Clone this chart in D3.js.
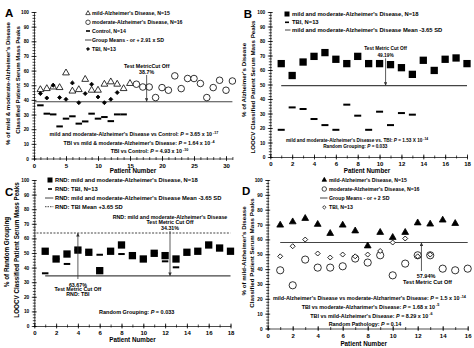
<!DOCTYPE html>
<html>
<head>
<meta charset="utf-8">
<script src="https://cdn.jsdelivr.net/npm/d3@7/dist/d3.min.js"></script>
<style>
  body { margin: 0; background: #fff; }
  text { font-family: "Liberation Sans", Arial, sans-serif; font-weight: bold; fill: #000; }
</style>
</head>
<body>
<div id="chart"></div>
<script>
// A: % classified as mild & moderate AD
var aMild = [47, 47.7, 48.8, 48.4, 58.4, 46, 47, 54, 46.6, 46.6, 50.7, 52.3, 50.7, 47.7, 51.2];            // patients 1-15
var aModerate = [50.7, 48.8, 48.8, 41.6, 48.4, 46.6, 56.4, 47.7, 54.6, 54.6, 51.2, 41.6, 48.4, 53.4, 46.6, 52.9]; // patients 16-31
var aControl = [36.3, 30.6, 30.1, 21.9, 27.2, 28.8, 23.8, 25.3, 30.6, 27.2, 28.3, 25.5, 30.1, 30.1];
var aTBI = [44.3, 41.3, 50, 41.6, 40.4, 51.6, 38.1, 44.3, 50.7, 42, 38.1, 40.4, 45];
var aCutOff = 38.7, aArrowAt = 17.6;

// B: LOOCV, AD vs TBI
var bAD = [64.4, 56.2, 65.5, 69.4, 72, 67.4, 64.4, 69.4, 64.4, 64.4, 63.7, 61.6, 57, 66.7, 59.7, 67.4, 68.3, 64.4];
var bTBI = [18.75, 34.2, 33.1, 26.2, 22, 18.75, 36.1, 28.5, 18.75, 31.25, 22, 30.3, 29.2];
var bCutOff = 49.19, bArrowAt = 10.55;

// C: random grouping
var cAD = [51.2, 45.9, 49.3, 52, 50.5, 37.9, 51.2, 55.5, 48.2, 45.9, 49.8, 48.2, 45.9, 50.5, 51.2, 55.5, 53.4, 51.2];
var cTBI = [36.1, 46, 42.5, 52, 50.5, 48.8, 51, 49.3, 48, 46, 50, 44.3, 40.2];
var cADCutOff = 34.31, cTBICutOff = 63.67, cArrowTBI = 4, cArrowAD = 12.45;

// D: mild vs moderate AD
var dMild = [69.6, 71.8, 74.1, 70.1, 64, 69.6, 65.7, 55.6, 64.7, 61.3, 64.7, 71.1, 70.3, 73, 70.7];
var dModerate = [39.2, 29.1, 46.4, 41, 41, 41.9, 47.1, 44.4, 49.3, 35.8, 43.7, 49.3, 49.3, 40.3, 39.2, 40.3];
var dTBI = [48.6, 55.4, 59.9, 50.5, 47.8, 49.8, 48.6, 49.8, 52.2, 57.9, 60.6, 48.6, 49.8];
var dCutOff = 57.94, dArrowAt = 12.3;

var yTicks = d3.range(0, 101, 10);

var svg = d3.select("#chart").append("svg").attr("width", 474).attr("height", 348);

svg.append("defs").append("marker")
  .attr("id", "ah").attr("viewBox", "0 0 6 6").attr("refX", 6).attr("refY", 3)
  .attr("markerWidth", 3.5).attr("markerHeight", 3.5)
  .attr("markerUnits", "userSpaceOnUse").attr("orient", "auto")
  .append("path").attr("d", "M0,0L6,3L0,6Z").attr("fill", "#333");

function frame(p) {
  var g = svg.append("g");
  var x = d3.scaleLinear().domain([0, p.xMax]).range(p.xr);
  var y = d3.scaleLinear().domain([0, 100]).range(p.yr);
  var x0 = p.xr[0], y0 = p.yr[0];

  g.append("g").attr("transform", `translate(${x0},0)`)
    .call(d3.axisLeft(y).tickValues(d3.range(0, 101, 2)).tickSize(1.5).tickSizeOuter(0).tickFormat(""))
    .call(a => a.selectAll(".tick line").attr("x1", 1.5));
  g.append("g").attr("transform", `translate(${x0},0)`)
    .call(d3.axisLeft(y).tickValues(yTicks).tickSize(2.5).tickPadding(2.5))
    .call(a => a.select(".domain").remove())
    .call(a => a.selectAll(".tick line").attr("x1", 2.5))
    .call(a => a.selectAll("text").attr("font-size", 4.8));

  g.append("g").attr("transform", `translate(0,${y0})`)
    .call(d3.axisBottom(x).tickValues(d3.range(0, p.xMax + 0.1, 1)).tickSize(1.5).tickSizeOuter(0).tickFormat(""))
    .call(a => a.selectAll(".tick line").attr("y1", -1.5));
  g.append("g").attr("transform", `translate(0,${y0})`)
    .call(d3.axisBottom(x).tickValues(d3.range(0, p.xMax + 0.1, p.xStep)).tickSize(2.5).tickPadding(2.5))
    .call(a => a.select(".domain").remove())
    .call(a => a.selectAll(".tick line").attr("y1", -2.5))
    .call(a => a.selectAll("text").attr("font-size", 6));

  g.selectAll(".domain, .tick line").attr("stroke-width", 0.7);
  return {g: g, x: x, y: y};
}

function label(g, cx, cy, s, size, anchor) {
  return g.append("text").attr("x", cx).attr("y", cy + size * 0.36)
    .attr("font-size", size).attr("text-anchor", anchor || "middle").text(s);
}

function pLabel(g, cx, cy, size, pre, val, sup) {
  var t = label(g, cx, cy, "", size);
  t.append("tspan").text(pre);
  t.append("tspan").attr("font-style", "italic").text("P");
  t.append("tspan").text(" = " + val);
  if (sup) t.append("tspan").attr("dy", -size * 0.45).attr("font-size", size * 0.7).text(" " + sup);
}

function yTitle(g, bx, cy, s, size) {
  g.append("text").attr("transform", `translate(${bx},${cy}) rotate(-90)`)
    .attr("text-anchor", "middle").attr("font-size", size).text(s);
}

function hline(P, x1, x2, v, dashed) {
  P.g.append("line")
    .attr("x1", P.x(x1)).attr("x2", P.x(x2)).attr("y1", P.y(v)).attr("y2", P.y(v))
    .attr("stroke", "#444").attr("stroke-width", 1.1)
    .attr("stroke-dasharray", dashed ? "2,1.4" : null);
}

function arrow(g, x, y1, y2) {
  g.append("line").attr("x1", x).attr("x2", x).attr("y1", y1).attr("y2", y2)
    .attr("stroke", "#333").attr("stroke-width", 0.8).attr("marker-end", "url(#ah)");
}

function marks(P, data, start, type, size, fill, rot) {
  P.g.append("g").selectAll("path").data(data).join("path")
    .attr("d", d3.symbol(type, size))
    .attr("transform", (d, i) => `translate(${P.x(i + start)},${P.y(d)}) rotate(${rot || 0})`)
    .attr("fill", fill).attr("stroke", "#000").attr("stroke-width", 0.8);
}

function rects(P, data, start, w, h) {
  P.g.append("g").selectAll("rect").data(data).join("rect")
    .attr("x", (d, i) => P.x(i + start) - w / 2)
    .attr("y", d => P.y(d) - h / 2)
    .attr("width", w).attr("height", h).attr("fill", "#000");
}

function legSym(g, x, y, type, size, fill, rot) {
  g.append("path").attr("d", d3.symbol(type, size))
    .attr("transform", `translate(${x},${y}) rotate(${rot || 0})`)
    .attr("fill", fill).attr("stroke", "#000").attr("stroke-width", 0.7);
}
function legRect(g, x, y, w, h) {
  g.append("rect").attr("x", x - w / 2).attr("y", y - h / 2).attr("width", w).attr("height", h);
}
function legLine(g, x1, x2, y, dashed) {
  g.append("line").attr("x1", x1).attr("x2", x2).attr("y1", y).attr("y2", y)
    .attr("stroke", "#444").attr("stroke-width", 1).attr("stroke-dasharray", dashed ? "1.5,1" : null);
}

// ---------- A ----------
var A = frame({xMax: 31, xr: [34, 232.4], yr: [158.5, 12], xStep: 5});
hline(A, 0, 31, aCutOff);
marks(A, aMild, 1, d3.symbolTriangle, 20, "#fff");
marks(A, aModerate, 16, d3.symbolCircle, 34, "#fff");
rects(A, aControl, 1, 6.5, 2);
marks(A, aTBI, 1, d3.symbolSquare, 8, "#000", 45);
arrow(A.g, A.x(aArrowAt), 75, A.y(aCutOff));
label(A.g, A.x(aArrowAt), 66, "Test MetricCut Off", 5.3);
label(A.g, A.x(aArrowAt), 72, aCutOff + "%", 5.3);
label(A.g, 5, 12.5, "A", 11.5, "start").attr("y", 16.7);
legSym(A.g, 88, 13.3, d3.symbolTriangle, 9, "#fff");
legSym(A.g, 88, 22.3, d3.symbolCircle, 16, "#fff");
legRect(A.g, 88, 31, 4, 1.6);
legLine(A.g, 85, 91.5, 40);
legSym(A.g, 88, 49, d3.symbolSquare, 5, "#000", 45);
label(A.g, 92, 13.3, "mild-Alzheimer's Disease, N=15", 5.2, "start");
label(A.g, 92, 22.3, "moderate-Alzheimer's Disease, N=16", 5.2, "start");
label(A.g, 92, 31, "Control, N=14", 5.2, "start");
label(A.g, 92, 40, "Group Means - or + 2.91 x SD", 5.2, "start");
label(A.g, 92, 49, "TBI, N=13", 5.2, "start");
pLabel(A.g, 134, 134.3, 5.3, "mild and moderate-Alzheimer's Disease vs Control: ", "3.65 x 10", "-17");
pLabel(A.g, 139, 143.3, 5.3, "TBI vs mild & moderate-Alzheimer's Disease: ", "1.64 x 10", "-4");
pLabel(A.g, 149.5, 151, 5.3, "TBI vs Control: ", "4.93 x 10", "-10");
label(A.g, 133, 171, "Patient Number", 6.3);
yTitle(A.g, 10.2, 83.5, "% of mild & moderate-Alzheimer's Disease", 6.1);
yTitle(A.g, 20.2, 80, "Classified Patient Serum Mass Peaks", 6.1);

// ---------- B ----------
var B = frame({xMax: 18, xr: [270.3, 467], yr: [157, 12], xStep: 2});
hline(B, 1, 18, bCutOff);
rects(B, bAD, 1, 7.3, 7.3);
rects(B, bTBI, 1, 7, 2);
arrow(B.g, B.x(bArrowAt), 58.3, B.y(bCutOff));
label(B.g, B.x(bArrowAt), 48.3, "Test Metric Cut Off", 4.8);
label(B.g, B.x(bArrowAt), 55, bCutOff + "%", 4.8);
label(B.g, 243.7, 12, "B", 11.5, "start").attr("y", 18.3);
legRect(B.g, 287, 14, 5, 5);
legRect(B.g, 287, 22.3, 4, 1.6);
legLine(B.g, 285, 290.5, 30);
label(B.g, 292, 14, "mild and moderate-Alzheimer's Disease, N=18", 5.8, "start");
label(B.g, 292, 22.3, "TBI, N=13", 5.8, "start");
label(B.g, 292, 30, "mild and moderate-Alzheimer's Disease Mean -3.65 SD", 5.8, "start");
pLabel(B.g, 357, 140, 4.7, "mild and moderate-Alzheimer's Disease vs. TBI: ", "1.53 X 10", "-14");
pLabel(B.g, 355.3, 146, 4.7, "Random Grouping: ", "0.033");
label(B.g, 367, 171, "Patient Number", 6.3);
yTitle(B.g, 246.2, 80, "% of Alzheimer's Disease", 6.2);
yTitle(B.g, 255.2, 87, "LOOCV Classified Patient Serum Mass Peaks", 6.2);

// ---------- C ----------
var C = frame({xMax: 18, xr: [34.3, 230.5], yr: [326, 180], xStep: 2});
hline(C, 1, 18, cADCutOff);
hline(C, 0.2, 18, cTBICutOff, true);
rects(C, cAD, 1, 7.3, 7.3);
rects(C, cTBI, 1, 6.5, 2);
arrow(C.g, C.x(cArrowTBI), 279, C.y(cTBICutOff));
arrow(C.g, C.x(cArrowAD), 231, C.y(cADCutOff));
label(C.g, C.x(cArrowTBI), 284.7, cTBICutOff + "%", 5.3);
label(C.g, C.x(cArrowTBI), 289.3, "Test Metric Cut Off", 5.3);
label(C.g, C.x(cArrowTBI), 294, "RND: TBI", 5.3);
label(C.g, C.x(cArrowAD), 216.7, "RND: mild and moderate-Alzheimer's Disease", 5.3);
label(C.g, C.x(cArrowAD), 222.3, "Test Metric Cut Off", 5.3);
label(C.g, C.x(cArrowAD), 228, cADCutOff + "%", 5.3);
label(C.g, 5, 190, "C", 11.5, "start").attr("y", 195.7);
legRect(C.g, 50, 180, 5, 5);
legRect(C.g, 50, 189, 4, 1.6);
legLine(C.g, 45, 53.3, 198);
legLine(C.g, 45, 53.3, 206.7, true);
label(C.g, 55, 180, "RND: mild and moderate-Alzheimer's Disease, N=18", 5.8, "start");
label(C.g, 55, 189, "RND: TBI, N=13", 5.8, "start");
label(C.g, 55, 198, "RND: mild and moderate-Alzheimer's Disease Mean -3.65 SD", 5.8, "start");
label(C.g, 55, 206.7, "RND: TBI Mean +3.65 SD", 5.8, "start");
pLabel(C.g, 136.7, 311.7, 5.5, "Random Grouping: ", "0.033");
label(C.g, 132.5, 340, "Patient Number", 6.3);
yTitle(C.g, 8.9, 252, "% of Random Grouping", 6.3);
yTitle(C.g, 18.9, 250, "LOOCV Classified Patient Serum Mass Peaks", 6.3);

// ---------- D ----------
var D = frame({xMax: 16, xr: [267.7, 467.7], yr: [328.5, 180], xStep: 2});
hline(D, 1, 16, dCutOff);
marks(D, dMild, 1, d3.symbolTriangle, 20, "#000");
marks(D, dModerate, 1, d3.symbolCircle, 41, "#fff");
marks(D, dTBI, 1, d3.symbolSquare, 12.5, "#fff", 45);
arrow(D.g, D.x(dArrowAt), 271, D.y(dCutOff));
label(D.g, 426, 275.7, dCutOff + "%", 5.5);
label(D.g, 427.5, 282.3, "Test Metric Cut Off", 5.5);
label(D.g, 242, 189, "D", 11.5, "start").attr("y", 194.7);
legSym(D.g, 324.3, 180, d3.symbolTriangle, 9, "#000");
legSym(D.g, 324.3, 189, d3.symbolCircle, 16, "#fff");
legLine(D.g, 320, 327.5, 198);
legSym(D.g, 324.3, 207.3, d3.symbolSquare, 6, "#fff", 45);
label(D.g, 329, 180, "mild-Alzheimer's Disease, N=15", 5.2, "start");
label(D.g, 329, 189, "moderate-Alzheimer's Disease, N=16", 5.2, "start");
label(D.g, 329, 198, "Group Means - or + 2 SD", 5.2, "start");
label(D.g, 329, 207.3, "TBI, N=13", 5.2, "start");
pLabel(D.g, 369.5, 298.3, 5.4, "mild-Alzheimer's Disease vs moderate-Alzharimer's Disease: ", "1.5 x 10", "-14");
pLabel(D.g, 370.5, 306.7, 5.4, "TBI vs moderate-Alzharimer's Disease: ", "1.68 x 10", "-5");
pLabel(D.g, 371.5, 315.7, 5.4, "TBI vs mild-Alzheimer's Disease: ", "8.29 x 10", "-6");
pLabel(D.g, 365, 324, 5.4, "Random Pathology: ", "0.14");
label(D.g, 363.7, 343.3, "Patient Number", 6.3);
yTitle(D.g, 246.2, 251, "% of mild-Alzheimer's Disease", 6.2);
yTitle(D.g, 254.2, 253, "Classified Patient Serum Mass Peaks", 6.2);
</script>
</body>
</html>
